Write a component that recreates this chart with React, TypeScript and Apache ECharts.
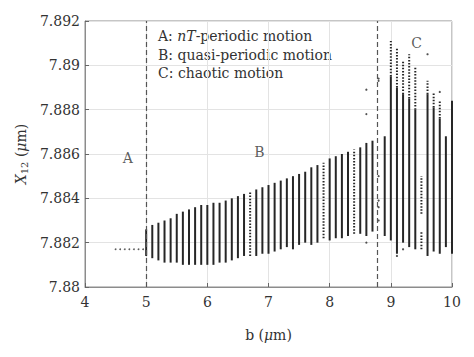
import React, { useEffect, useRef } from 'react';
import * as echarts from 'echarts';

// Region A: nT-periodic points
const aB = [4.5, 4.575, 4.65, 4.725, 4.8, 4.875, 4.95];
const aX = [7.8817, 7.8817, 7.8817, 7.8817, 7.8817, 7.8817, 7.8817];

// Dense columns (b, lower, upper)
const denseB = [5.0, 5.1, 5.2, 5.3, 5.4, 5.5, 5.6, 5.7, 5.8, 5.9, 6.0, 6.1, 6.2, 6.3, 6.4, 6.5, 6.6, 6.8, 6.9, 7.0, 7.1, 7.2, 7.3, 7.4, 7.5, 7.6, 7.7, 7.8, 8.0, 8.1, 8.2, 8.3, 8.5, 8.6, 8.7, 8.9, 9.0, 9.1, 9.2, 9.3, 9.4, 9.6, 9.7, 9.8, 9.9, 10.0];
const denseLo = [7.8814, 7.8813, 7.8812, 7.8811, 7.8811, 7.8811, 7.881, 7.881, 7.881, 7.881, 7.881, 7.881, 7.8811, 7.8811, 7.8812, 7.8813, 7.8814, 7.8814, 7.8815, 7.8815, 7.8816, 7.8817, 7.8818, 7.8817, 7.8819, 7.882, 7.8819, 7.882, 7.8821, 7.8822, 7.8822, 7.8823, 7.8824, 7.8823, 7.8825, 7.8823, 7.8821, 7.8815, 7.882, 7.8818, 7.8817, 7.8814, 7.8816, 7.8815, 7.8818, 7.8815];
const denseHi = [7.8826, 7.8828, 7.8829, 7.883, 7.8831, 7.8833, 7.8834, 7.8835, 7.8836, 7.8837, 7.8837, 7.8838, 7.8838, 7.8839, 7.884, 7.8841, 7.8842, 7.8844, 7.8845, 7.8846, 7.8847, 7.8848, 7.8849, 7.885, 7.8851, 7.8852, 7.8854, 7.8855, 7.8858, 7.8859, 7.886, 7.8861, 7.8863, 7.8865, 7.8866, 7.8868, 7.8895, 7.889, 7.8887, 7.8885, 7.888, 7.8887, 7.8881, 7.8876, 7.8868, 7.8884];

// Sparse (dotted) columns
const sparseB = [6.7, 7.9, 8.4, 9.0, 9.1, 9.2, 9.3, 9.4, 9.5, 9.5, 9.6, 9.7, 9.8];
const sparseLo = [7.8814, 7.8822, 7.8824, 7.8895, 7.889, 7.8887, 7.8885, 7.888, 7.8833, 7.8817, 7.8887, 7.8881, 7.8876];
const sparseHi = [7.8843, 7.8856, 7.8862, 7.8911, 7.8908, 7.8902, 7.8905, 7.8899, 7.885, 7.8825, 7.8893, 7.8888, 7.8884];

// Isolated points
const outB = [8.6, 8.6, 8.6, 8.8, 8.8, 8.8, 8.8, 8.8, 8.8, 9.1, 9.2, 9.6, 9.8];
const outX = [7.8889, 7.8878, 7.882, 7.8894, 7.8893, 7.885, 7.8839, 7.8836, 7.883, 7.8814, 7.8817, 7.8905, 7.8888];

// Region boundaries
const boundaries = [5, 8.78];

const legendLines = ['A: ', 'B: quasi-periodic motion', 'C: chaotic motion'];
const regionLabels = ['A', 'B', 'C'];
const regionLabelB = [4.7, 6.85, 9.42];
const regionLabelX = [7.8858, 7.8861, 7.8910];

const FONT = 'DejaVu Serif';
const TXT = '#333';

export default function App() {
  const ref = useRef<HTMLDivElement>(null);
  useEffect(() => {
    if (!ref.current) return;
    const chart = echarts.init(ref.current, undefined, { renderer: 'svg' });
    const segRender = (dash: number[] | null, lw: number) => (params: any, api: any) => {
      const p1 = api.coord([api.value(0), api.value(1)]);
      const p2 = api.coord([api.value(0), api.value(2)]);
      return {
        type: 'line',
        shape: { x1: p1[0], y1: p1[1], x2: p2[0], y2: p2[1] },
        style: { stroke: '#262626', lineWidth: lw, lineDash: dash || undefined },
      };
    };
    chart.setOption({
      animation: false,
      textStyle: { fontFamily: FONT },
      grid: { left: 85, right: 22, top: 21, bottom: 70, show: true, borderColor: '#8c8c8c', borderWidth: 1 },
      xAxis: {
        type: 'value', min: 4, max: 10, interval: 1,
        name: 'b ({i|μ}m)', nameLocation: 'middle', nameGap: 41,
        nameTextStyle: { fontFamily: FONT, fontSize: 14, color: TXT, rich: { i: { fontStyle: 'italic', fontFamily: FONT, fontSize: 14, color: TXT } } },
        axisLine: { show: true, lineStyle: { color: '#8c8c8c' } },
        axisTick: { show: true, inside: true, length: 4, lineStyle: { color: '#666' } },
        axisLabel: { fontFamily: FONT, fontSize: 14, color: TXT, margin: 8 },
        splitLine: { show: true, lineStyle: { color: '#e3e3e3' } },
      },
      yAxis: {
        type: 'value', min: 7.88, max: 7.892, interval: 0.002,
        name: '{i|X}{s|12} ({i|μ}m)', nameLocation: 'middle', nameGap: 49,
        nameTextStyle: { fontFamily: FONT, fontSize: 14, color: TXT, rich: { i: { fontStyle: 'italic', fontFamily: FONT, fontSize: 14, color: TXT }, s: { fontFamily: FONT, fontSize: 10, color: TXT, verticalAlign: 'bottom', padding: [6, 0, 0, 0] } } },
        axisLine: { show: true, lineStyle: { color: '#8c8c8c' } },
        axisTick: { show: true, inside: true, length: 4, lineStyle: { color: '#666' } },
        axisLabel: { fontFamily: FONT, fontSize: 14, color: TXT, margin: 5, formatter: (v: number) => String(parseFloat(v.toFixed(3))) },
        splitLine: { show: true, lineStyle: { color: '#e3e3e3' } },
      },
      series: [
        {
          type: 'custom', renderItem: segRender(null, 2.0), encode: { x: 0, y: [1, 2] },
          data: denseB.map((b, i) => [b, denseLo[i], denseHi[i]]), silent: true,
        },
        {
          type: 'custom', renderItem: segRender([1.5, 1.6], 2.0), encode: { x: 0, y: [1, 2] },
          data: sparseB.map((b, i) => [b, sparseLo[i], sparseHi[i]]), silent: true,
        },
        {
          type: 'scatter', symbol: 'circle', symbolSize: 2.2, itemStyle: { color: '#262626' },
          data: outB.map((b, i) => [b, outX[i]]), silent: true,
        },
        {
          type: 'scatter', symbol: 'circle', symbolSize: 1.8, itemStyle: { color: '#333' },
          data: aB.map((b, i) => [b, aX[i]]), silent: true,
          markLine: {
            silent: true, symbol: 'none', label: { show: false },
            lineStyle: { type: [5, 3], color: '#555', width: 1.2 },
            data: boundaries.map((b) => ({ xAxis: b })),
          },
        },
        {
          type: 'scatter', symbolSize: 0, silent: true,
          label: { show: true, position: 'inside', formatter: (p: any) => regionLabels[p.dataIndex], fontFamily: FONT, fontSize: 14, color: TXT },
          data: regionLabelB.map((b, i) => [b, regionLabelX[i]]),
        },
      ],
      graphic: [
        {
          type: 'text', left: 158, top: 27,
          style: {
            text: legendLines[0] + '{i|nT}-periodic motion\n' + legendLines[1] + '\n' + legendLines[2],
            fontFamily: FONT, fontSize: 14, fill: TXT, lineHeight: 18.5,
            rich: { i: { fontStyle: 'italic', fontFamily: FONT, fontSize: 14, fill: TXT, lineHeight: 18.5 } },
          },
        },
      ],
    });
    return () => chart.dispose();
  }, []);
  return <div ref={ref} style={{ position: 'fixed', left: 0, top: 0, width: 474, height: 357, background: '#fff' }} />;
}
